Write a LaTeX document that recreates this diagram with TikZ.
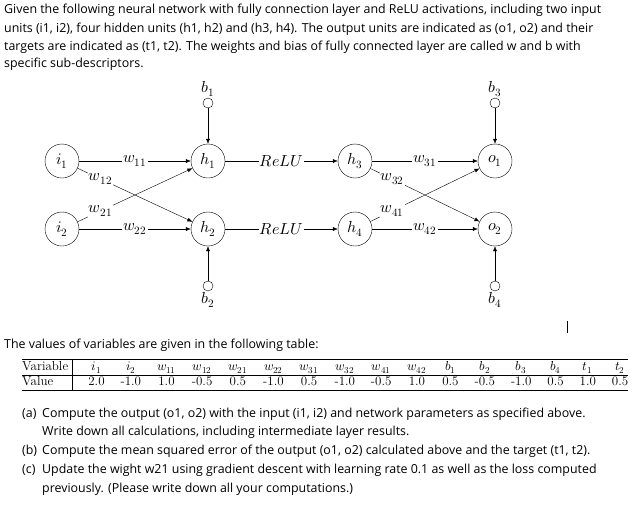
\documentclass[tikz,border=0pt]{standalone}
\usepackage{fontspec}
\setmainfont{Open Sans}
\newfontfamily\lmr{Latin Modern Roman}
\usepackage{unicode-math}
\setmathfont{Latin Modern Math}
\usetikzlibrary{arrows.meta}
\begin{document}
\begin{tikzpicture}[x=1pt,y=-1pt,
  neuron/.style={circle,draw,minimum size=34pt,inner sep=0pt,font=\fontsize{16}{18}\selectfont},
  bias/.style={circle,draw,minimum size=10pt,inner sep=0pt},
  blab/.style={font=\fontsize{16}{18}\selectfont,inner sep=1pt},
  conn/.style={-{Latex[length=5pt,width=4pt]},thin},
  wl/.style={fill=white,inner sep=1pt,font=\fontsize{16}{18}\selectfont},
  txt/.style={anchor=west,inner sep=0pt,font=\fontsize{12.4}{14}\selectfont}]
\useasboundingbox (0,0) rectangle (635,504);
\node[txt] (t1) at (4,10) {Given the following neural network with fully connection layer and ReLU activations, including two input};
\node[txt] (t2) at (4,29) {units (i1, i2), four hidden units (h1, h2) and (h3, h4). The output units are indicated as (o1, o2) and their};
\node[txt] (t3) at (4,47) {targets are indicated as (t1, t2). The weights and bias of fully connected layer are called w and b with};
\node[txt] (t4) at (4,64) {specific sub-descriptors.};

\node[neuron] (i1) at (62,161) {$i_1$};
\node[neuron] (i2) at (62,229) {$i_2$};
\node[neuron] (h1) at (208,161) {$h_1$};
\node[neuron] (h2) at (208,229) {$h_2$};
\node[neuron] (h3) at (355,161) {$h_3$};
\node[neuron] (h4) at (355,229) {$h_4$};
\node[neuron] (o1) at (495,161) {$o_1$};
\node[neuron] (o2) at (495,229) {$o_2$};
\node[bias,label={[blab]above:$b_1$}] (b1) at (208,103) {};
\node[bias,label={[blab]below:$b_2$}] (b2) at (208,286) {};
\node[bias,label={[blab]above:$b_3$}] (b3) at (495,103) {};
\node[bias,label={[blab]below:$b_4$}] (b4) at (495,286) {};

\draw[conn] (i1) -- node[wl]{$w_{11}$} (h1);
\draw[conn] (i2) -- node[wl]{$w_{22}$} (h2);
\draw[conn] (i1) -- node[wl,pos=0.2]{$w_{12}$} (h2);
\draw[conn] (i2) -- node[wl,pos=0.2]{$w_{21}$} (h1);
\draw[conn] (h1) -- node[wl]{$ReLU$} (h3);
\draw[conn] (h2) -- node[wl]{$ReLU$} (h4);
\draw[conn] (h3) -- node[wl]{$w_{31}$} (o1);
\draw[conn] (h4) -- node[wl]{$w_{42}$} (o2);
\draw[conn] (h3) -- node[wl,pos=0.2]{$w_{32}$} (o2);
\draw[conn] (h4) -- node[wl,pos=0.2]{$w_{41}$} (o1);
\draw[conn] (b1) -- (h1);
\draw[conn] (b2) -- (h2);
\draw[conn] (b3) -- (o1);
\draw[conn] (b4) -- (o2);

\draw (567,321) -- (567,333);

\node[txt] (tv) at (4,345) {The values of variables are given in the following table:};
\node[anchor=north west,inner sep=0pt] (tab) at (22,359) {\setlength{\tabcolsep}{0pt}\lmr\fontsize{13}{15}\selectfont\renewcommand{\arraystretch}{1}%
\begin{tabular*}{606pt}{@{\extracolsep{\fill}}l@{\ }|cccccccccccccccc@{}}
\hline
Variable & $i_1$ & $i_2$ & $w_{11}$ & $w_{12}$ & $w_{21}$ & $w_{22}$ & $w_{31}$ & $w_{32}$ & $w_{41}$ & $w_{42}$ & $b_1$ & $b_2$ & $b_3$ & $b_4$ & $t_1$ & $t_2$\\
\hline
Value & 2.0 & -1.0 & 1.0 & -0.5 & 0.5 & -1.0 & 0.5 & -1.0 & -0.5 & 1.0 & 0.5 & -0.5 & -1.0 & 0.5 & 1.0 & 0.5\\
\hline
\end{tabular*}};

\node[txt] (qa) at (22,414) {(a)};
\node[txt] (qa1) at (42,414) {Compute the output (o1, o2) with the input (i1, i2) and network parameters as specified above.};
\node[txt] (qa2) at (42,432) {Write down all calculations, including intermediate layer results.};
\node[txt] (qb) at (22,451) {(b)};
\node[txt] (qb1) at (42,451) {Compute the mean squared error of the output (o1, o2) calculated above and the target (t1, t2).};
\node[txt] (qc) at (22,470) {(c)};
\node[txt] (qc1) at (42,470) {Update the wight w21 using gradient descent with learning rate 0.1 as well as the loss computed};
\node[txt] (qc2) at (42,489) {previously. (Please write down all your computations.)};
\end{tikzpicture}
\end{document}
